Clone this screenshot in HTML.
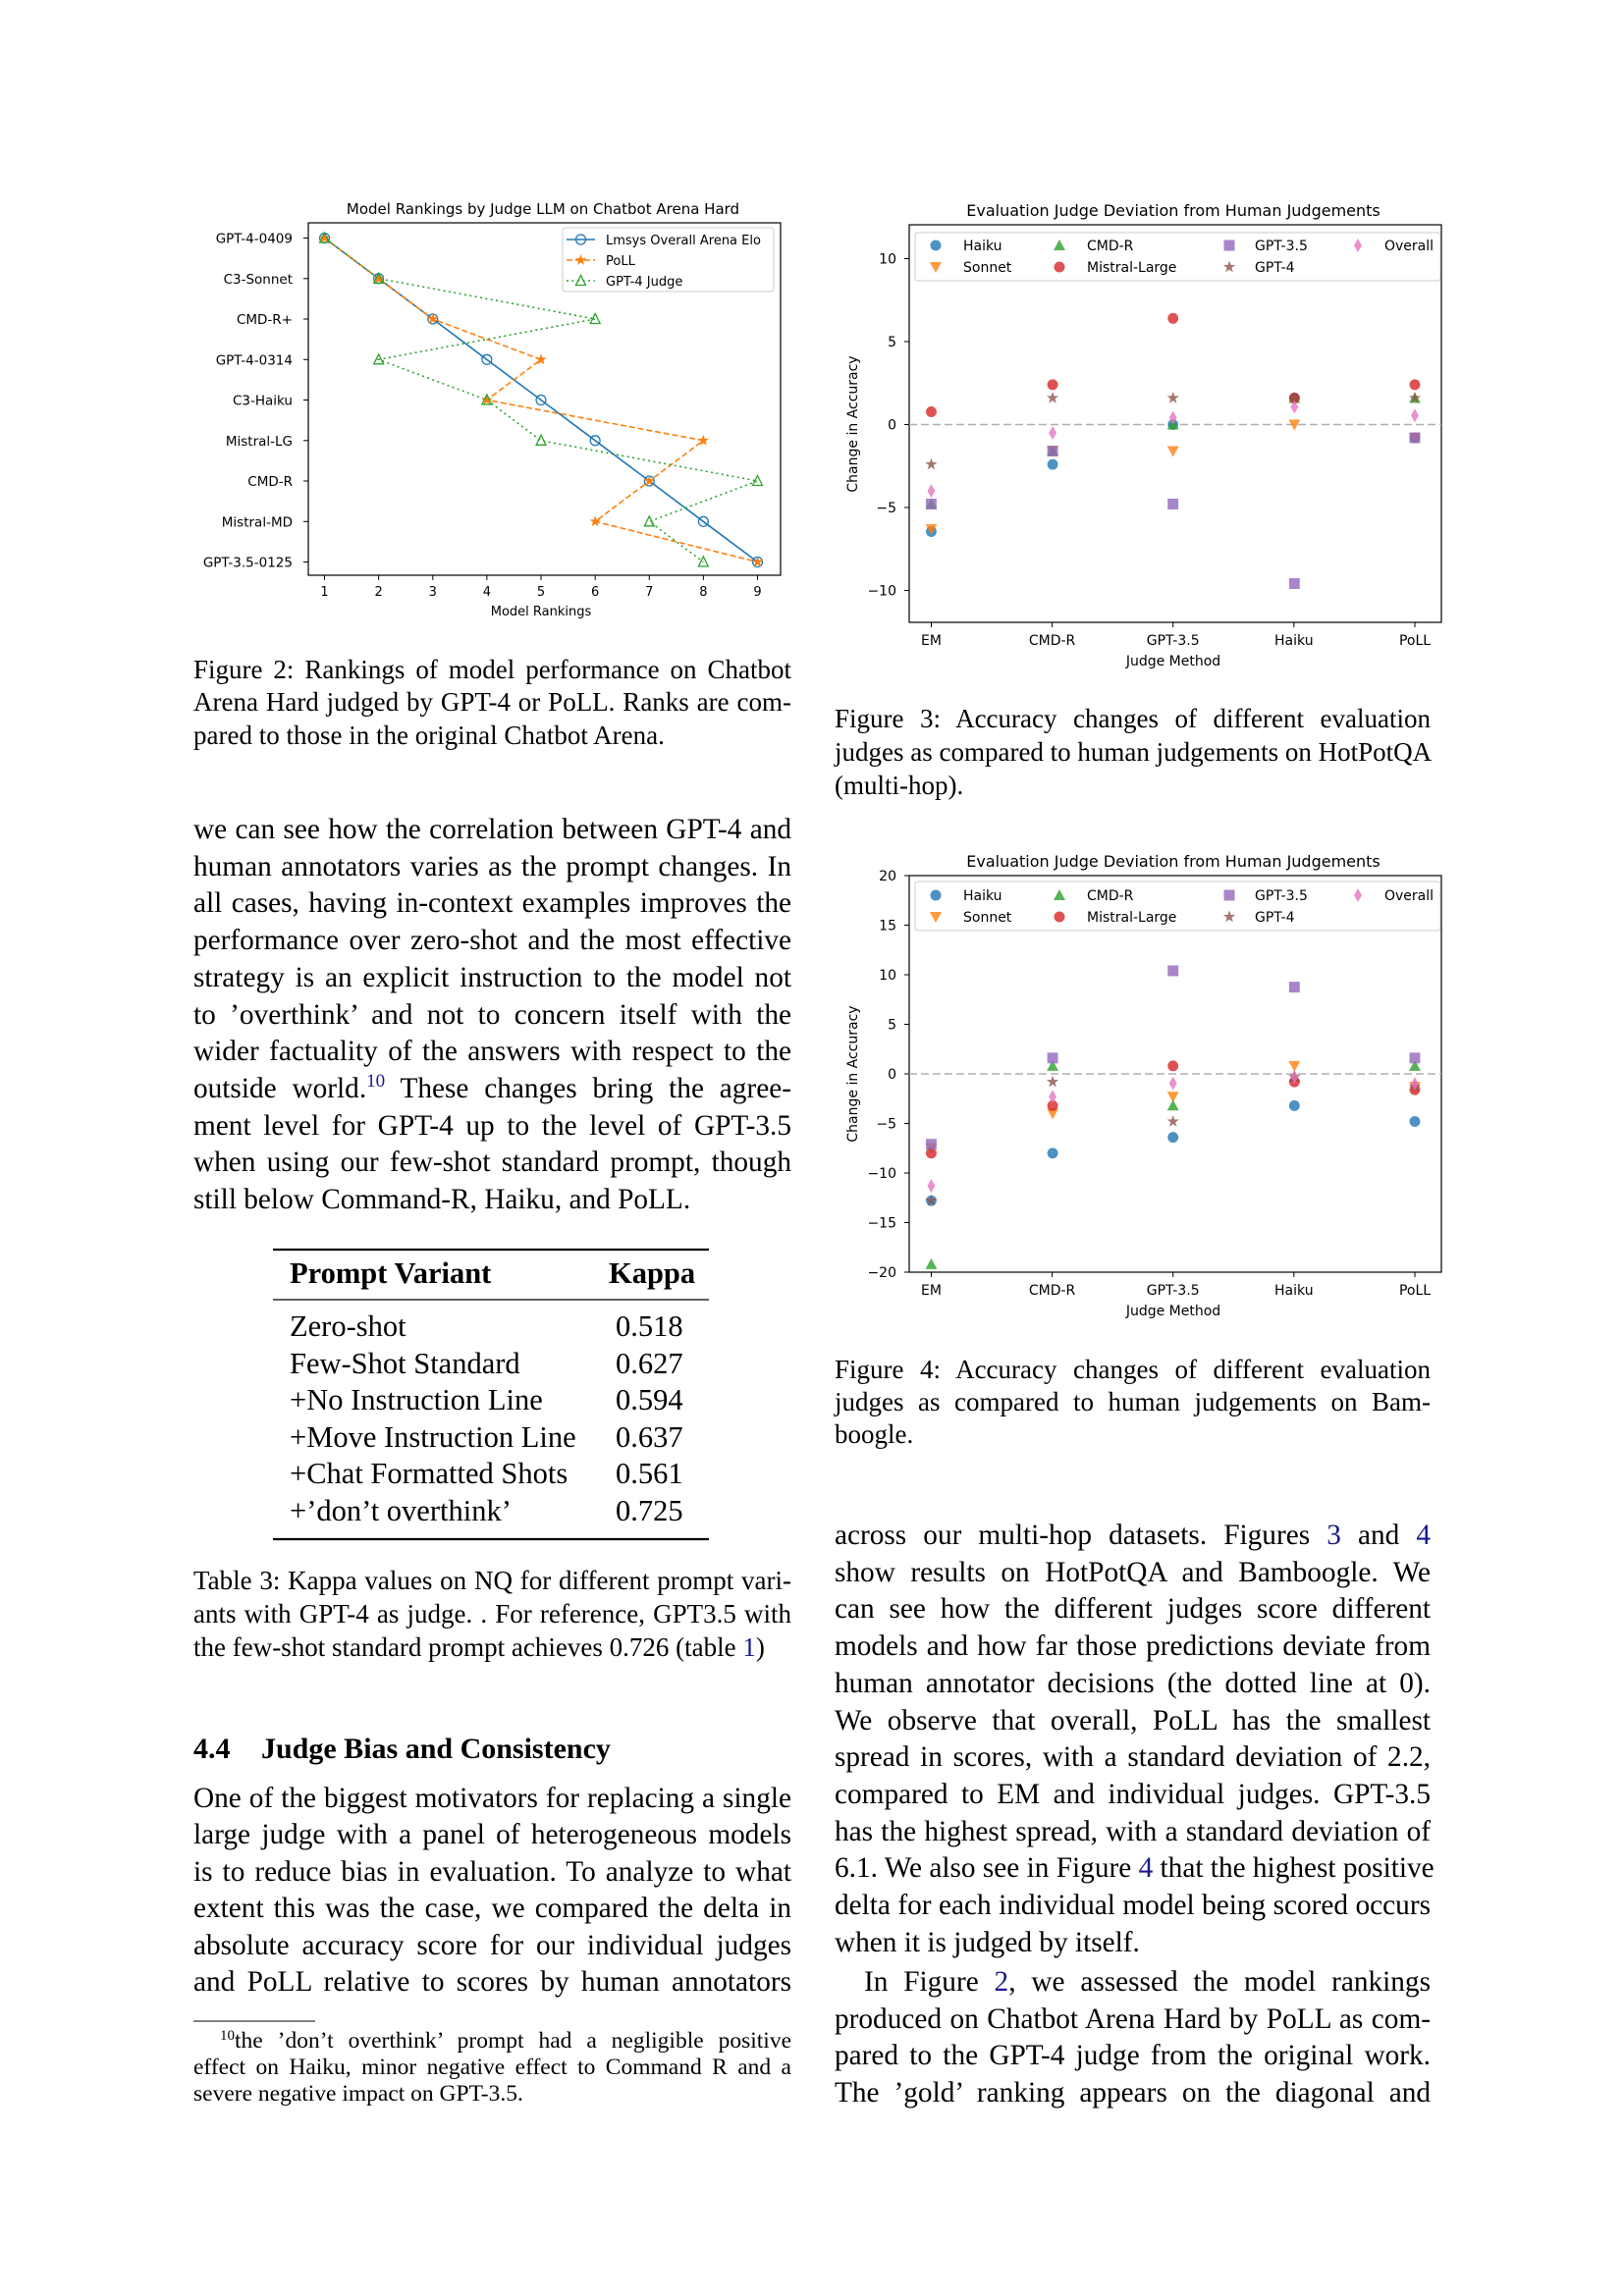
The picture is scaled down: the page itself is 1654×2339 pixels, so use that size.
<!DOCTYPE html>
<html><head><meta charset="utf-8">
<style>
html,body{margin:0;padding:0;background:#fff}
#pg{position:relative;width:1654px;height:2339px;overflow:hidden;font-family:"Liberation Serif",serif;color:#000}
.b{position:absolute;font-size:29.3px;line-height:38px;height:38px;white-space:nowrap;text-align:justify;text-align-last:justify}
.b.e{text-align-last:left}
.c{position:absolute;font-size:27px;line-height:33px;height:33px;white-space:nowrap;text-align:justify;text-align-last:justify}
.c.e{text-align-last:left}
.f{position:absolute;font-size:23.5px;line-height:27px;height:27px;white-space:nowrap;text-align:justify;text-align-last:justify}
.f.e{text-align-last:left}
.L{left:197px;width:609px}
.R{left:850px;width:607px}
.lk{color:#1a1a8c}
sup{font-size:19px;line-height:0;vertical-align:11px}
.t{position:absolute;font-size:30.5px;line-height:38px;white-space:nowrap}
svg{position:absolute;left:0;top:0}
svg text{font-family:"DejaVu Sans",sans-serif;fill:#000}
</style></head><body><div id="pg">

<svg width="1654" height="2339" viewBox="0 0 1654 2339">
<defs>
<circle id="cb" r="5.5" fill="#1f77b4" fill-opacity="0.8"/>
<circle id="cr" r="5.5" fill="#d62728" fill-opacity="0.8"/>
<polygon id="dt" points="-6,-5 6,-5 0,6" fill="#ff7f0e" fill-opacity="0.8"/>
<polygon id="ut" points="-6,5 6,5 0,-6" fill="#2ca02c" fill-opacity="0.8"/>
<rect id="sq" x="-5.5" y="-5.5" width="11" height="11" fill="#9467bd" fill-opacity="0.8"/>
<polygon id="st" points="0,-6.5 1.53,-2.1 6.18,-2.01 2.47,0.8 3.82,5.26 0,2.6 -3.82,5.26 -2.47,0.8 -6.18,-2.01 -1.53,-2.1" fill="#8c564b" fill-opacity="0.8"/>
<polygon id="dm" points="0,-7 4,0 0,7 -4,0" fill="#e377c2" fill-opacity="0.8"/>
<circle id="oc" r="5" fill="none" stroke="#1f77b4" stroke-width="1.3"/>
<polygon id="os" points="0,-6 1.4,-1.9 5.7,-1.9 2.3,0.7 3.5,4.9 0,2.4 -3.5,4.9 -2.3,0.7 -5.7,-1.9 -1.4,-1.9" fill="#ff7f0e"/>
<polygon id="ot" points="-5,4.5 5,4.5 0,-5.5" fill="none" stroke="#2ca02c" stroke-width="1.3"/>
</defs>

<!-- FIGURE 2 -->
<text x="553" y="218" font-size="15" text-anchor="middle">Model Rankings by Judge LLM on Chatbot Arena Hard</text>
<rect x="314" y="227" width="481" height="359" fill="none" stroke="#000" stroke-width="1.2"/>
<g transform="matrix(0.98658 0 0 1 2.96 -1.5)">
<g stroke="#000" stroke-width="1">
<line x1="332" y1="587.5" x2="332" y2="592.5"/><line x1="387.9" y1="587.5" x2="387.9" y2="592.5"/><line x1="443.8" y1="587.5" x2="443.8" y2="592.5"/><line x1="499.6" y1="587.5" x2="499.6" y2="592.5"/><line x1="555.5" y1="587.5" x2="555.5" y2="592.5"/><line x1="611.4" y1="587.5" x2="611.4" y2="592.5"/><line x1="667.3" y1="587.5" x2="667.3" y2="592.5"/><line x1="723.1" y1="587.5" x2="723.1" y2="592.5"/><line x1="779" y1="587.5" x2="779" y2="592.5"/>
</g>
<polyline points="332,244 387.9,285.3 443.8,326.5 499.6,367.8 555.5,409 611.4,450.3 667.3,491.5 723.1,532.8 779,574" fill="none" stroke="#1f77b4" stroke-width="1.6"/>
<polyline points="332,244 387.9,285.3 443.8,326.5 555.5,367.8 499.6,409 723.1,450.3 667.3,491.5 611.4,532.8 779,574" fill="none" stroke="#ff7f0e" stroke-width="1.6" stroke-dasharray="6,3"/>
<polyline points="332,244 387.9,285.3 611.4,326.5 387.9,367.8 499.6,409 555.5,450.3 779,491.5 667.3,532.8 723.1,574" fill="none" stroke="#2ca02c" stroke-width="1.6" stroke-dasharray="2,3.5"/>
<use href="#oc" x="332" y="244"/><use href="#oc" x="387.9" y="285.3"/><use href="#oc" x="443.8" y="326.5"/><use href="#oc" x="499.6" y="367.8"/><use href="#oc" x="555.5" y="409"/><use href="#oc" x="611.4" y="450.3"/><use href="#oc" x="667.3" y="491.5"/><use href="#oc" x="723.1" y="532.8"/><use href="#oc" x="779" y="574"/>
<use href="#os" x="332" y="244"/><use href="#os" x="387.9" y="285.3"/><use href="#os" x="443.8" y="326.5"/><use href="#os" x="555.5" y="367.8"/><use href="#os" x="499.6" y="409"/><use href="#os" x="723.1" y="450.3"/><use href="#os" x="667.3" y="491.5"/><use href="#os" x="611.4" y="532.8"/><use href="#os" x="779" y="574"/>
<use href="#ot" x="332" y="244"/><use href="#ot" x="387.9" y="285.3"/><use href="#ot" x="611.4" y="326.5"/><use href="#ot" x="387.9" y="367.8"/><use href="#ot" x="499.6" y="409"/><use href="#ot" x="555.5" y="450.3"/><use href="#ot" x="779" y="491.5"/><use href="#ot" x="667.3" y="532.8"/><use href="#ot" x="723.1" y="574"/>
</g>
<g stroke="#000" stroke-width="1">
<line x1="309" y1="242.5" x2="314" y2="242.5"/><line x1="309" y1="283.8" x2="314" y2="283.8"/><line x1="309" y1="325" x2="314" y2="325"/><line x1="309" y1="366.3" x2="314" y2="366.3"/><line x1="309" y1="407.5" x2="314" y2="407.5"/><line x1="309" y1="448.8" x2="314" y2="448.8"/><line x1="309" y1="490" x2="314" y2="490"/><line x1="309" y1="531.3" x2="314" y2="531.3"/><line x1="309" y1="572.5" x2="314" y2="572.5"/>
</g>
<g font-size="13" text-anchor="middle">
<text x="330.5" y="607">1</text><text x="385.6" y="607">2</text><text x="440.8" y="607">3</text><text x="495.9" y="607">4</text><text x="551" y="607">5</text><text x="606.1" y="607">6</text><text x="661.3" y="607">7</text><text x="716.4" y="607">8</text><text x="771.5" y="607">9</text>
</g>
<text x="551" y="627" font-size="13" text-anchor="middle">Model Rankings</text>
<g font-size="13.5" text-anchor="end">
<text x="298" y="247.5">GPT-4-0409</text><text x="298" y="288.8">C3-Sonnet</text><text x="298" y="330">CMD-R+</text><text x="298" y="371.3">GPT-4-0314</text><text x="298" y="412.5">C3-Haiku</text><text x="298" y="453.8">Mistral-LG</text><text x="298" y="495">CMD-R</text><text x="298" y="536.3">Mistral-MD</text><text x="298" y="577.5">GPT-3.5-0125</text>
</g>
<rect x="573" y="232" width="215" height="65" rx="3" fill="#fff" fill-opacity="0.85" stroke="#ccc"/>
<line x1="577" y1="244" x2="606" y2="244" stroke="#1f77b4" stroke-width="1.6"/><use href="#oc" x="591.5" y="244"/>
<line x1="577" y1="265" x2="606" y2="265" stroke="#ff7f0e" stroke-width="1.6" stroke-dasharray="6,3"/><use href="#os" x="591.5" y="265"/>
<line x1="577" y1="286" x2="606" y2="286" stroke="#2ca02c" stroke-width="1.6" stroke-dasharray="2,3.5"/><use href="#ot" x="591.5" y="286"/>
<g font-size="13"><text x="617" y="249">Lmsys Overall Arena Elo</text><text x="617" y="270">PoLL</text><text x="617" y="291">GPT-4 Judge</text></g>

<!-- FIGURE 3 -->
<text x="1195" y="220" font-size="16" text-anchor="middle">Evaluation Judge Deviation from Human Judgements</text>
<rect x="926" y="229" width="542" height="405" fill="none" stroke="#000" stroke-width="1.2"/>
<g stroke="#000"><line x1="921" y1="263.5" x2="926" y2="263.5"/><line x1="921" y1="348" x2="926" y2="348"/><line x1="921" y1="432.5" x2="926" y2="432.5"/><line x1="921" y1="517" x2="926" y2="517"/><line x1="921" y1="601.5" x2="926" y2="601.5"/>
<line x1="948.5" y1="634" x2="948.5" y2="639"/><line x1="1071.6" y1="634" x2="1071.6" y2="639"/><line x1="1194.7" y1="634" x2="1194.7" y2="639"/><line x1="1317.8" y1="634" x2="1317.8" y2="639"/><line x1="1441" y1="634" x2="1441" y2="639"/></g>
<g font-size="14" text-anchor="end"><text x="913" y="268.5">10</text><text x="913" y="353">5</text><text x="913" y="437.5">0</text><text x="913" y="522">−5</text><text x="913" y="606.5">−10</text></g>
<g font-size="14" text-anchor="middle"><text x="948.5" y="657">EM</text><text x="1071.6" y="657">CMD-R</text><text x="1194.7" y="657">GPT-3.5</text><text x="1317.8" y="657">Haiku</text><text x="1441" y="657">PoLL</text></g>
<text x="1195" y="678" font-size="14" text-anchor="middle">Judge Method</text>
<text transform="translate(873,432) rotate(-90)" font-size="14" text-anchor="middle">Change in Accuracy</text>
<line x1="926" y1="432.5" x2="1468" y2="432.5" stroke="#b0b0b0" stroke-width="1.5" stroke-dasharray="8,4"/>
<g transform="matrix(0.98896 0 0 1 5.98 -1.5)">
<use href="#cb" x="953" y="543"/><use href="#dt" x="953" y="540.5"/><use href="#ut" x="953" y="515"/><use href="#cr" x="953" y="421"/><use href="#sq" x="953" y="515"/><use href="#st" x="953" y="474.6"/><use href="#dm" x="953" y="501.6"/>
<use href="#cb" x="1078" y="474.6"/><use href="#dt" x="1078" y="461"/><use href="#ut" x="1078" y="461"/><use href="#cr" x="1078" y="393.4"/><use href="#sq" x="1078" y="461"/><use href="#st" x="1078" y="407"/><use href="#dm" x="1078" y="442.5"/>
<use href="#cb" x="1202" y="434"/><use href="#dt" x="1202" y="461"/><use href="#ut" x="1202" y="434"/><use href="#cr" x="1202" y="325.8"/><use href="#sq" x="1202" y="515"/><use href="#st" x="1202" y="407"/><use href="#dm" x="1202" y="427"/>
<use href="#cb" x="1327" y="407"/><use href="#dt" x="1327" y="434"/><use href="#ut" x="1327" y="407"/><use href="#cr" x="1327" y="407"/><use href="#sq" x="1327" y="596"/><use href="#st" x="1327" y="407"/><use href="#dm" x="1327" y="416"/>
<use href="#cb" x="1451" y="447.5"/><use href="#dt" x="1451" y="447.5"/><use href="#ut" x="1451" y="407"/><use href="#cr" x="1451" y="393.4"/><use href="#sq" x="1451" y="447.5"/><use href="#st" x="1451" y="407"/><use href="#dm" x="1451" y="424.7"/>
</g>
<rect x="932" y="237" width="535" height="49" rx="3" fill="#fff" fill-opacity="0.85" stroke="#ccc"/>
<use href="#cb" x="953" y="250"/><use href="#dt" x="953" y="272"/><use href="#ut" x="1079" y="250"/><use href="#cr" x="1079" y="272"/><use href="#sq" x="1252" y="250"/><use href="#st" x="1252" y="272"/><use href="#dm" x="1383" y="250"/>
<g font-size="14"><text x="981" y="255">Haiku</text><text x="981" y="277">Sonnet</text><text x="1107" y="255">CMD-R</text><text x="1107" y="277">Mistral-Large</text><text x="1278" y="255">GPT-3.5</text><text x="1278" y="277">GPT-4</text><text x="1410" y="255">Overall</text></g>

<!-- FIGURE 4 -->
<text x="1195" y="883" font-size="16" text-anchor="middle">Evaluation Judge Deviation from Human Judgements</text>
<rect x="926" y="892" width="542" height="404" fill="none" stroke="#000" stroke-width="1.2"/>
<g stroke="#000"><line x1="921" y1="892" x2="926" y2="892"/><line x1="921" y1="942.5" x2="926" y2="942.5"/><line x1="921" y1="993" x2="926" y2="993"/><line x1="921" y1="1043.5" x2="926" y2="1043.5"/><line x1="921" y1="1094" x2="926" y2="1094"/><line x1="921" y1="1144.5" x2="926" y2="1144.5"/><line x1="921" y1="1195" x2="926" y2="1195"/><line x1="921" y1="1245.5" x2="926" y2="1245.5"/><line x1="921" y1="1296" x2="926" y2="1296"/>
<line x1="948.5" y1="1296" x2="948.5" y2="1301"/><line x1="1071.6" y1="1296" x2="1071.6" y2="1301"/><line x1="1194.7" y1="1296" x2="1194.7" y2="1301"/><line x1="1317.8" y1="1296" x2="1317.8" y2="1301"/><line x1="1441" y1="1296" x2="1441" y2="1301"/></g>
<g font-size="14" text-anchor="end"><text x="913" y="897">20</text><text x="913" y="947.5">15</text><text x="913" y="998">10</text><text x="913" y="1048.5">5</text><text x="913" y="1099">0</text><text x="913" y="1149.5">−5</text><text x="913" y="1200">−10</text><text x="913" y="1250.5">−15</text><text x="913" y="1301">−20</text></g>
<g font-size="14" text-anchor="middle"><text x="948.5" y="1319">EM</text><text x="1071.6" y="1319">CMD-R</text><text x="1194.7" y="1319">GPT-3.5</text><text x="1317.8" y="1319">Haiku</text><text x="1441" y="1319">PoLL</text></g>
<text x="1195" y="1340" font-size="14" text-anchor="middle">Judge Method</text>
<text transform="translate(873,1094) rotate(-90)" font-size="14" text-anchor="middle">Change in Accuracy</text>
<line x1="926" y1="1094" x2="1468" y2="1094" stroke="#b0b0b0" stroke-width="1.5" stroke-dasharray="8,4"/>
<g transform="matrix(0.98896 0 0 0.99753 5.98 -0.79)">
<use href="#cb" x="953" y="1227"/><use href="#dt" x="953" y="1173.4"/><use href="#ut" x="953" y="1291.9"/><use href="#cr" x="953" y="1178.5"/><use href="#sq" x="953" y="1169.4"/><use href="#st" x="953" y="1227"/><use href="#dm" x="953" y="1211.9"/>
<use href="#cb" x="1078" y="1178.5"/><use href="#dt" x="1078" y="1138"/><use href="#ut" x="1078" y="1089.4"/><use href="#cr" x="1078" y="1129.9"/><use href="#sq" x="1078" y="1081.3"/><use href="#st" x="1078" y="1105.6"/><use href="#dm" x="1078" y="1120.8"/>
<use href="#cb" x="1202" y="1162.3"/><use href="#dt" x="1202" y="1120.8"/><use href="#ut" x="1202" y="1129.9"/><use href="#cr" x="1202" y="1089.4"/><use href="#sq" x="1202" y="992.2"/><use href="#st" x="1202" y="1146.1"/><use href="#dm" x="1202" y="1107.1"/>
<use href="#cb" x="1327" y="1129.9"/><use href="#dt" x="1327" y="1089.4"/><use href="#ut" x="1327" y="1100.5"/><use href="#cr" x="1327" y="1105.6"/><use href="#sq" x="1327" y="1008.9"/><use href="#st" x="1327" y="1100.5"/><use href="#dm" x="1327" y="1100.5"/>
<use href="#cb" x="1451" y="1146.1"/><use href="#dt" x="1451" y="1110.7"/><use href="#ut" x="1451" y="1089.4"/><use href="#cr" x="1451" y="1113.7"/><use href="#sq" x="1451" y="1081.3"/><use href="#st" x="1451" y="1110.7"/><use href="#dm" x="1451" y="1107.6"/>
</g>
<rect x="932" y="898" width="535" height="50" rx="3" fill="#fff" fill-opacity="0.85" stroke="#ccc"/>
<use href="#cb" x="953" y="912"/><use href="#dt" x="953" y="934"/><use href="#ut" x="1079" y="912"/><use href="#cr" x="1079" y="934"/><use href="#sq" x="1252" y="912"/><use href="#st" x="1252" y="934"/><use href="#dm" x="1383" y="912"/>
<g font-size="14"><text x="981" y="917">Haiku</text><text x="981" y="939">Sonnet</text><text x="1107" y="917">CMD-R</text><text x="1107" y="939">Mistral-Large</text><text x="1278" y="917">GPT-3.5</text><text x="1278" y="939">GPT-4</text><text x="1410" y="917">Overall</text></g>

<!-- table rules -->
<line x1="278" y1="1273" x2="722" y2="1273" stroke="#000" stroke-width="2.2"/>
<line x1="278" y1="1324" x2="722" y2="1324" stroke="#000" stroke-width="1.3"/>
<line x1="278" y1="1568" x2="722" y2="1568" stroke="#000" stroke-width="2.2"/>
<line x1="197" y1="2059" x2="321" y2="2059" stroke="#000" stroke-width="1"/>
</svg>

<!-- Left column -->
<div class="c L" style="top:666px">Figure 2: Rankings of model performance on Chatbot</div>
<div class="c L" style="top:699px">Arena Hard judged by GPT-4 or PoLL. Ranks are com-</div>
<div class="c L e" style="top:733px">pared to those in the original Chatbot Arena.</div>

<div class="b L" style="top:826px">we can see how the correlation between GPT-4 and</div>
<div class="b L" style="top:863.7px">human annotators varies as the prompt changes. In</div>
<div class="b L" style="top:901.4px">all cases, having in-context examples improves the</div>
<div class="b L" style="top:939.1px">performance over zero-shot and the most effective</div>
<div class="b L" style="top:976.8px">strategy is an explicit instruction to the model not</div>
<div class="b L" style="top:1014.5px">to ’overthink’ and not to concern itself with the</div>
<div class="b L" style="top:1052.2px">wider factuality of the answers with respect to the</div>
<div class="b L" style="top:1089.9px">outside world.<sup class="lk">10</sup> These changes bring the agree-</div>
<div class="b L" style="top:1127.6px">ment level for GPT-4 up to the level of GPT-3.5</div>
<div class="b L" style="top:1165.3px">when using our few-shot standard prompt, though</div>
<div class="b L e" style="top:1203px">still below Command-R, Haiku, and PoLL.</div>

<div class="t" style="left:295px;top:1278px;font-weight:bold">Prompt Variant</div>
<div class="t" style="left:620px;top:1278px;font-weight:bold">Kappa</div>
<div class="t" style="left:295px;top:1332px">Zero-shot</div><div class="t" style="left:627px;top:1332px">0.518</div>
<div class="t" style="left:295px;top:1370px">Few-Shot Standard</div><div class="t" style="left:627px;top:1370px">0.627</div>
<div class="t" style="left:295px;top:1407px">+No Instruction Line</div><div class="t" style="left:627px;top:1407px">0.594</div>
<div class="t" style="left:295px;top:1445px">+Move Instruction Line</div><div class="t" style="left:627px;top:1445px">0.637</div>
<div class="t" style="left:295px;top:1482px">+Chat Formatted Shots</div><div class="t" style="left:627px;top:1482px">0.561</div>
<div class="t" style="left:295px;top:1520px">+’don’t overthink’</div><div class="t" style="left:627px;top:1520px">0.725</div>

<div class="c L" style="top:1594px">Table 3: Kappa values on NQ for different prompt vari-</div>
<div class="c L" style="top:1628px">ants with GPT-4 as judge. . For reference, GPT3.5 with</div>
<div class="c L e" style="top:1662px">the few-shot standard prompt achieves 0.726 (table <span class="lk">1</span>)</div>

<div class="t" style="left:197px;top:1763px;font-weight:bold;font-size:30px">4.4</div>
<div class="t" style="left:266px;top:1763px;font-weight:bold;font-size:30px">Judge Bias and Consistency</div>

<div class="b L" style="top:1813px">One of the biggest motivators for replacing a single</div>
<div class="b L" style="top:1850.4px">large judge with a panel of heterogeneous models</div>
<div class="b L" style="top:1887.8px">is to reduce bias in evaluation. To analyze to what</div>
<div class="b L" style="top:1925.2px">extent this was the case, we compared the delta in</div>
<div class="b L" style="top:1962.6px">absolute accuracy score for our individual judges</div>
<div class="b L" style="top:2000px">and PoLL relative to scores by human annotators</div>

<div class="f" style="left:224px;width:582px;top:2066px"><sup style="font-size:15px;vertical-align:8px">10</sup>the ’don’t overthink’ prompt had a negligible positive</div>
<div class="f L" style="top:2093px">effect on Haiku, minor negative effect to Command R and a</div>
<div class="f L e" style="top:2120px">severe negative impact on GPT-3.5.</div>

<!-- Right column -->
<div class="c R" style="top:716px">Figure 3: Accuracy changes of different evaluation</div>
<div class="c R" style="top:750px">judges as compared to human judgements on HotPotQA</div>
<div class="c R e" style="top:784px">(multi-hop).</div>

<div class="c R" style="top:1379px">Figure 4: Accuracy changes of different evaluation</div>
<div class="c R" style="top:1412px">judges as compared to human judgements on Bam-</div>
<div class="c R e" style="top:1445px">boogle.</div>

<div class="b R" style="top:1545px">across our multi-hop datasets. Figures <span class="lk">3</span> and <span class="lk">4</span></div>
<div class="b R" style="top:1582.7px">show results on HotPotQA and Bamboogle. We</div>
<div class="b R" style="top:1620.4px">can see how the different judges score different</div>
<div class="b R" style="top:1658.1px">models and how far those predictions deviate from</div>
<div class="b R" style="top:1695.8px">human annotator decisions (the dotted line at 0).</div>
<div class="b R" style="top:1733.5px">We observe that overall, PoLL has the smallest</div>
<div class="b R" style="top:1771.2px">spread in scores, with a standard deviation of 2.2,</div>
<div class="b R" style="top:1808.9px">compared to EM and individual judges. GPT-3.5</div>
<div class="b R" style="top:1846.6px">has the highest spread, with a standard deviation of</div>
<div class="b R" style="top:1884.3px">6.1. We also see in Figure <span class="lk">4</span> that the highest positive</div>
<div class="b R" style="top:1922px">delta for each individual model being scored occurs</div>
<div class="b R e" style="top:1959.7px">when it is judged by itself.</div>
<div class="b" style="left:880px;width:577px;top:2000px">In Figure <span class="lk">2</span>, we assessed the model rankings</div>
<div class="b R" style="top:2037.7px">produced on Chatbot Arena Hard by PoLL as com-</div>
<div class="b R" style="top:2075.4px">pared to the GPT-4 judge from the original work.</div>
<div class="b R" style="top:2113px">The ’gold’ ranking appears on the diagonal and</div>

</div></body></html>
